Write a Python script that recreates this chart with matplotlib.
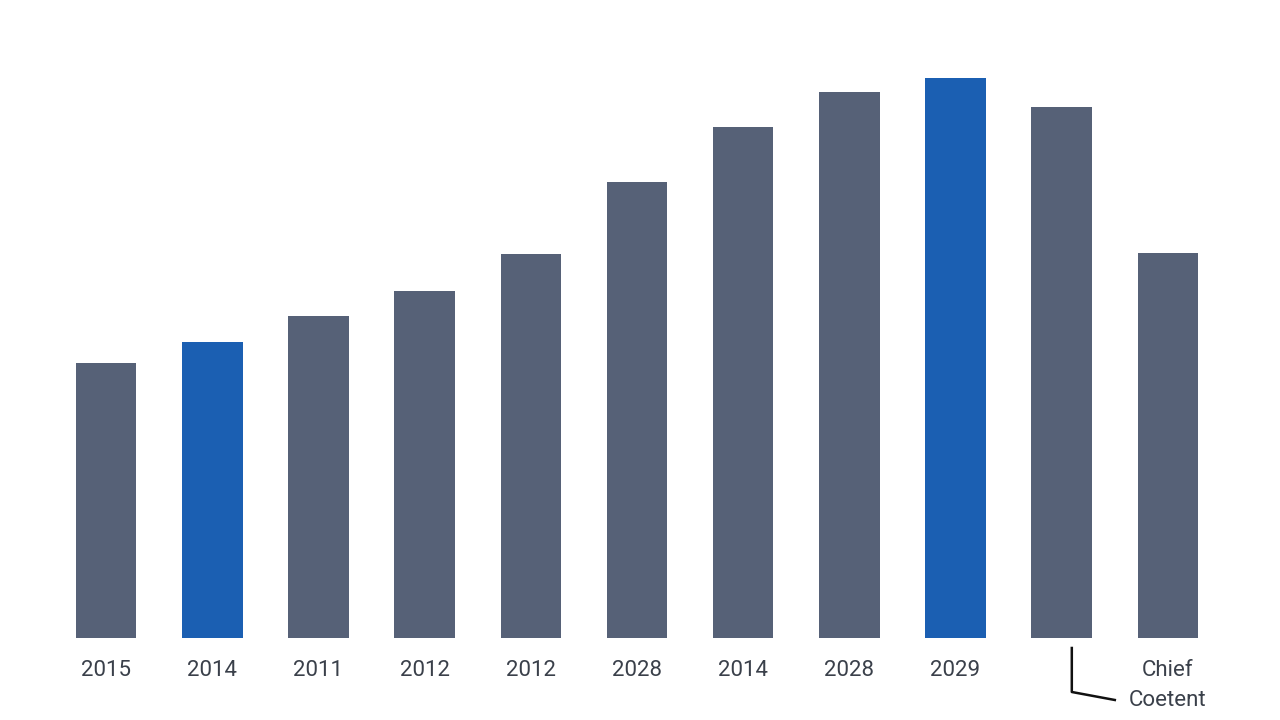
import matplotlib.pyplot as plt

# bar labels and heights (arbitrary units)
labels = ['2015', '2014', '2011', '2012', '2012', '2028', '2014', '2028', '2029', '', 'Chief\nCoetent']
values = [275, 296, 322, 347, 384, 456, 511, 546, 560, 531, 385]
highlight = [False, True, False, False, False, False, False, False, True, False, False]

gray = '#566177'
blue = '#1b5fb2'
colors = [blue if h else gray for h in highlight]

plt.rcParams['font.family'] = ['Roboto', 'DejaVu Sans']

fig = plt.figure(figsize=(12.8, 7.2), dpi=100)
ax = fig.add_axes([0.0414, 0.1139, 0.9125, 0.8333])

x = list(range(len(values)))
ax.bar(x, values, width=0.57, color=colors)
ax.set_xlim(-0.5, len(values) - 0.5)
ax.set_ylim(0, 600)

for s in ax.spines.values():
    s.set_visible(False)
ax.set_yticks([])
ax.set_xticks([])

# year labels under the bars
for i, lab in enumerate(labels[:-1]):
    ax.text(i, -33, lab, ha='center', va='center', fontsize=16, color='#3a404a')

# callout on the last bar
last = len(values) - 1
ax.text(last, -33, 'Chief', ha='center', va='center', fontsize=16, color='#3a404a')
ax.text(last, -63, 'Coetent', ha='center', va='center', fontsize=16, color='#3a404a',
        clip_on=False)
ax.plot([last - 0.905, last - 0.905, last - 0.5], [-10, -54, -62], color='#111111',
        lw=1.8, clip_on=False)

fig.savefig('out.png', dpi=100, facecolor='white')
